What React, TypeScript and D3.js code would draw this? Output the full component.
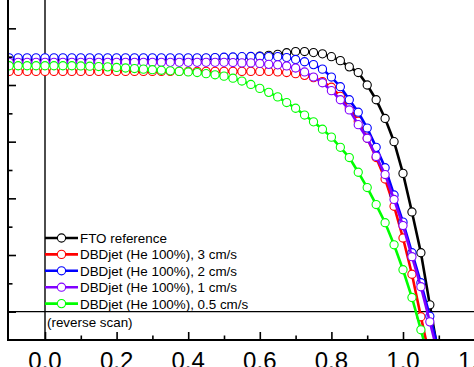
import { useEffect, useRef } from 'react'
import * as d3 from 'd3'

// voltage steps (V), reverse scan
const voltages = [
    -0.1, -0.075, -0.05, -0.025, 0, 0.025, 0.05, 0.075, 0.1, 0.125, 0.15, 0.175,
    0.2, 0.225, 0.25, 0.275, 0.3, 0.325, 0.35, 0.375, 0.4, 0.425, 0.45, 0.475,
    0.5, 0.525, 0.55, 0.575, 0.6, 0.625, 0.65, 0.675, 0.7, 0.725, 0.75, 0.775,
    0.8, 0.825, 0.85, 0.875, 0.9, 0.925, 0.95, 0.975, 1.0, 1.025, 1.05, 1.075, 1.1,
]

// current density (mA/cm2)
const ftoRef = [
    22.2, 22.2, 22.2, 22.2, 22.2, 22.2, 22.2, 22.2, 22.2, 22.2, 22.2, 22.2,
    22.22, 22.22, 22.23, 22.24, 22.25, 22.26, 22.28, 22.3, 22.31, 22.33, 22.35, 22.37,
    22.4, 22.42, 22.45, 22.5, 22.55, 22.62, 22.7, 22.85, 22.95, 22.95, 22.86, 22.75,
    22.5, 22.15, 21.6, 21.1, 20.0, 18.7, 17.05, 15.0, 12.2, 8.8, 5.2, 0.6, -4.0,
]
const jet3 = [
    21.2, 21.2, 21.2, 21.2, 21.2, 21.2, 21.2, 21.2, 21.2, 21.2, 21.2, 21.2,
    21.2, 21.2, 21.2, 21.2, 21.2, 21.2, 21.2, 21.2, 21.2, 21.2, 21.2, 21.2,
    21.2, 21.2, 21.2, 21.2, 21.2, 21.2, 21.15, 21.1, 21.0, 20.85, 20.65, 20.3,
    19.8, 19.0, 18.0, 16.8, 15.3, 13.6, 11.7, 9.3, 6.5, 3.3, -0.45, -4.1,
]
const jet2 = [
    22.4, 22.4, 22.4, 22.4, 22.4, 22.4, 22.4, 22.4, 22.4, 22.4, 22.4, 22.4,
    22.4, 22.4, 22.4, 22.4, 22.4, 22.4, 22.4, 22.4, 22.4, 22.4, 22.4, 22.42,
    22.45, 22.47, 22.5, 22.52, 22.52, 22.5, 22.5, 22.42, 22.25, 22.05, 21.8, 21.4,
    20.7, 19.85, 18.7, 17.6, 16.2, 14.5, 12.7, 10.3, 7.9, 5.2, 2.55, -0.4, -3.4,
]
const jet1 = [
    22.0, 22.0, 22.0, 22.0, 22.0, 22.0, 22.0, 22.0, 22.0, 22.0, 22.0, 22.0,
    22.0, 22.0, 22.0, 22.0, 22.0, 22.0, 22.0, 22.0, 22.0, 22.0, 22.0, 22.0,
    22.0, 21.98, 21.95, 21.95, 21.9, 21.82, 21.78, 21.68, 21.5, 21.15, 20.7, 20.2,
    19.5, 18.7, 17.8, 16.5, 15.3, 13.7, 12.1, 9.9, 7.6, 4.85, 2.2, -0.9, -4.05,
]
const jet05 = [
    21.7, 21.7, 21.7, 21.7, 21.7, 21.7, 21.7, 21.7, 21.68, 21.66, 21.63, 21.6,
    21.55, 21.5, 21.45, 21.4, 21.35, 21.3, 21.25, 21.2, 21.15, 21.1, 21.0, 20.9,
    20.78, 20.6, 20.35, 20.05, 19.7, 19.35, 18.95, 18.45, 17.95, 17.35, 16.75, 16.1,
    15.4, 14.5, 13.6, 12.3, 10.95, 9.45, 7.85, 5.9, 3.7, 1.25, -1.6, -4.6,
]

const seriesNames = [
    'FTO reference',
    'DBDjet (He 100%), 3 cm/s',
    'DBDjet (He 100%), 2 cm/s',
    'DBDjet (He 100%), 1 cm/s',
    'DBDjet (He 100%), 0.5 cm/s',
]
const seriesValues = [ftoRef, jet3, jet2, jet1, jet05]
const seriesColors = ['#000000', '#ff0000', '#0000ff', '#8000ff', '#00ff00']
const xTicks = [0, 0.2, 0.4, 0.6, 0.8, 1.0, 1.2]

export default function App() {
    const svgRef = useRef<SVGSVGElement>(null)

    useEffect(() => {
        if (!svgRef.current) return
        const width = 474
        const height = 367
        const svg = d3.select(svgRef.current)
        svg.attr('width', width).attr('height', height)
        svg.selectAll('*').remove()

        const font = '"Liberation Sans", Arial, sans-serif'
        const x = d3.scaleLinear().domain([-0.1, 1.3]).range([9.2, 510.4])
        const y = d3.scaleLinear().domain([-2.5, 27.5]).range([340, 0])
        const left = 8
        const bottom = 340

        svg.append('defs').append('clipPath').attr('id', 'plot')
            .append('rect')
            .attr('x', left).attr('y', 0)
            .attr('width', width - left).attr('height', bottom)

        // zero lines
        svg.append('line')
            .attr('x1', x(0)).attr('x2', x(0))
            .attr('y1', 0).attr('y2', bottom)
            .attr('stroke', '#000').attr('stroke-width', 1.4)
        svg.append('line')
            .attr('x1', left).attr('x2', width)
            .attr('y1', y(0)).attr('y2', y(0))
            .attr('stroke', '#000').attr('stroke-width', 1.4)

        const plot = svg.append('g').attr('clip-path', 'url(#plot)')
        const line = d3.line<number>()
            .x((_, i) => x(voltages[i]))
            .y(d => y(d))

        seriesValues.forEach((vals, si) => {
            plot.append('path')
                .datum(vals)
                .attr('fill', 'none')
                .attr('stroke', seriesColors[si])
                .attr('stroke-width', 2.6)
                .attr('d', line)
            plot.selectAll(`.pt${si}`)
                .data(vals)
                .enter()
                .append('circle')
                .attr('class', `pt${si}`)
                .attr('cx', (_, i) => x(voltages[i]))
                .attr('cy', d => y(d))
                .attr('r', 4.1)
                .attr('fill', '#fff')
                .attr('stroke', seriesColors[si])
                .attr('stroke-width', 1.1)
        })

        // axes (ticks inward)
        const xAxis = d3.axisBottom(x)
            .tickValues(d3.range(0, 13).map(i => i * 0.1))
            .tickSize(0)
            .tickFormat(() => '')
        const gx = svg.append('g').attr('transform', `translate(0,${bottom})`).call(xAxis)
        gx.select('.domain').remove()
        gx.selectAll('.tick line').remove()
        gx.selectAll('.tick').append('line')
            .attr('y1', 0)
            .attr('y2', (_, i) => (i % 2 === 0 ? -8 : -4.5))
            .attr('stroke', '#000').attr('stroke-width', 1.6)

        const yAxis = d3.axisLeft(y)
            .tickValues(d3.range(0, 11).map(i => i * 2.5))
            .tickSize(0)
            .tickFormat(() => '')
        const gy = svg.append('g').attr('transform', `translate(${left},0)`).call(yAxis)
        gy.select('.domain').remove()
        gy.selectAll('.tick line').remove()
        gy.selectAll('.tick').append('line')
            .attr('x1', 0)
            .attr('x2', (_, i) => (i % 2 === 0 ? 8 : 4.5))
            .attr('stroke', '#000').attr('stroke-width', 1.6)

        svg.append('line')
            .attr('x1', left).attr('x2', left)
            .attr('y1', 0).attr('y2', bottom + 1)
            .attr('stroke', '#000').attr('stroke-width', 2)
        svg.append('line')
            .attr('x1', left - 1).attr('x2', width)
            .attr('y1', bottom).attr('y2', bottom)
            .attr('stroke', '#000').attr('stroke-width', 2)

        svg.selectAll('.xlabel')
            .data(xTicks)
            .enter()
            .append('text')
            .attr('class', 'xlabel')
            .attr('x', d => x(d))
            .attr('y', bottom + 29)
            .attr('text-anchor', 'middle')
            .attr('font-family', font)
            .attr('font-size', '24px')
            .attr('fill', '#000')
            .text(d => d.toFixed(1))

        // legend
        const legend = svg.append('g').attr('transform', `translate(${x(0)}, 238)`)
        seriesNames.forEach((name, i) => {
            const ly = i * 16.4
            legend.append('line')
                .attr('x1', 0).attr('x2', 33)
                .attr('y1', ly).attr('y2', ly)
                .attr('stroke', seriesColors[i]).attr('stroke-width', 2.6)
            legend.append('circle')
                .attr('cx', 16.5).attr('cy', ly).attr('r', 4.1)
                .attr('fill', '#fff')
                .attr('stroke', seriesColors[i]).attr('stroke-width', 1.1)
            legend.append('text')
                .attr('x', 35)
                .attr('y', ly + 5)
                .attr('font-family', font)
                .attr('font-size', '13.4px')
                .attr('fill', '#000')
                .text(name)
        })
        svg.append('text')
            .attr('x', x(0) + 2)
            .attr('y', 327)
            .attr('font-family', font)
            .attr('font-size', '13.4px')
            .attr('fill', '#000')
            .text('(reverse scan)')
    }, [])

    return <svg ref={svgRef} style={{ position: 'absolute', left: 0, top: 0, display: 'block' }} />
}
